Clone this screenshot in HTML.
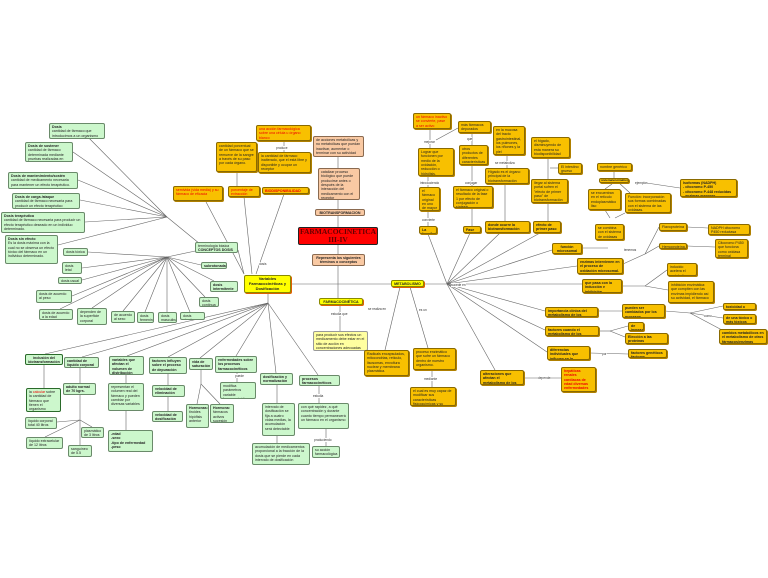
<!DOCTYPE html>
<html><head><meta charset="utf-8"><style>
html,body{margin:0;padding:0;background:#fff;width:768px;height:578px;overflow:hidden}
#c{position:relative;width:768px;height:578px}
svg{position:absolute;left:0;top:0}
.n{position:absolute;box-sizing:border-box;font-family:"Liberation Sans",sans-serif;font-size:3.6px;line-height:1.2;padding:1px 2px;border-radius:2px;overflow:hidden;color:#222}
.g{background:#ccf7cc;border:0.8px solid #6a8a6a}
.o{background:#f8c000;border:0.8px solid #8a6a00;box-shadow:1px 1px 0 #b08000}
.p{background:#f9c9a3;border:0.8px solid #8a6a50}
.y{background:#ffff00;border:0.8px solid #8a8a00;box-shadow:1px 1px 0 #e06000;text-align:center;font-weight:bold}
.ly{background:#ffffa0;border:0.8px solid #999}
.r{color:#e00}
b{font-weight:bold}
.l{position:absolute;font-family:"Liberation Sans",sans-serif;font-size:3.2px;background:#fff;color:#333}
</style></head><body><div id="c">
<svg width="768" height="578" stroke="#666" stroke-width="0.6" fill="none">
<!-- left dosis fan -->
<g>
<line x1="167" y1="217" x2="80" y2="129"/><line x1="167" y1="217" x2="73" y2="152"/><line x1="167" y1="217" x2="78" y2="180"/><line x1="167" y1="217" x2="80" y2="200"/><line x1="167" y1="217" x2="85" y2="222"/><line x1="167" y1="217" x2="58" y2="245"/><line x1="167" y1="217" x2="200" y2="244"/>
<line x1="167" y1="257" x2="88" y2="252"/><line x1="167" y1="257" x2="82" y2="268"/><line x1="167" y1="257" x2="82" y2="280"/><line x1="167" y1="257" x2="72" y2="296"/><line x1="167" y1="257" x2="60" y2="309"/><line x1="167" y1="257" x2="92" y2="308"/><line x1="167" y1="257" x2="123" y2="311"/><line x1="167" y1="257" x2="145" y2="312"/><line x1="167" y1="257" x2="167" y2="312"/><line x1="167" y1="257" x2="190" y2="312"/><line x1="167" y1="257" x2="205" y2="297"/><line x1="167" y1="257" x2="214" y2="281"/><line x1="167" y1="257" x2="201" y2="265"/><line x1="167" y1="257" x2="200" y2="250"/>
<line x1="244" y1="274" x2="238" y2="250"/><line x1="244" y1="274" x2="205" y2="200"/><line x1="252" y1="274" x2="244" y2="197"/><line x1="256" y1="274" x2="284" y2="194"/>
<line x1="237" y1="172" x2="237" y2="186"/><line x1="284" y1="141" x2="284" y2="152"/>
<!-- lower fan -->
<line x1="268" y1="303" x2="268" y2="293"/>
<line x1="268" y1="303" x2="45" y2="354"/><line x1="268" y1="303" x2="82" y2="357"/><line x1="268" y1="303" x2="127" y2="356"/><line x1="268" y1="303" x2="168" y2="357"/><line x1="268" y1="303" x2="200" y2="358"/><line x1="268" y1="303" x2="236" y2="356"/><line x1="268" y1="303" x2="276" y2="373"/><line x1="268" y1="303" x2="318" y2="375"/>
<line x1="44" y1="365" x2="44" y2="388"/><line x1="80" y1="368" x2="80" y2="383"/><line x1="80" y1="395" x2="80" y2="420"/><line x1="80" y1="420" x2="57" y2="422"/><line x1="80" y1="420" x2="45" y2="437"/><line x1="80" y1="420" x2="92" y2="427"/><line x1="80" y1="420" x2="80" y2="445"/>
<line x1="126" y1="375" x2="126" y2="383"/><line x1="126" y1="411" x2="126" y2="430"/><line x1="168" y1="374" x2="168" y2="385"/><line x1="168" y1="397" x2="168" y2="411"/>
<line x1="201" y1="370" x2="201" y2="384"/><line x1="201" y1="384" x2="197" y2="404"/><line x1="201" y1="384" x2="220" y2="404"/>
<line x1="237" y1="373" x2="237" y2="382"/><line x1="277" y1="385" x2="277" y2="403"/><line x1="277" y1="436" x2="277" y2="443"/><line x1="319" y1="386" x2="319" y2="403"/><line x1="326" y1="429" x2="326" y2="446"/>
<!-- center -->
<line x1="338" y1="209" x2="338" y2="200"/><line x1="338" y1="168" x2="338" y2="157"/><line x1="338" y1="227" x2="338" y2="216"/><line x1="338" y1="245" x2="338" y2="254"/><line x1="338" y1="266" x2="338" y2="298"/><line x1="292" y1="284" x2="391" y2="284"/><line x1="340" y1="305" x2="340" y2="331"/>
<line x1="400" y1="287" x2="385" y2="350"/><line x1="410" y1="287" x2="428" y2="348"/><line x1="432" y1="370" x2="432" y2="387"/>
<line x1="424" y1="284" x2="447" y2="284"/>
<!-- right fan from hub 447,284 -->
<line x1="447" y1="284" x2="428" y2="234"/><line x1="447" y1="284" x2="470" y2="233"/><line x1="447" y1="284" x2="500" y2="233"/><line x1="447" y1="284" x2="540" y2="233"/><line x1="447" y1="284" x2="552" y2="250"/><line x1="447" y1="284" x2="577" y2="266"/><line x1="447" y1="284" x2="582" y2="284"/><line x1="447" y1="284" x2="545" y2="311"/><line x1="447" y1="284" x2="545" y2="330"/><line x1="447" y1="284" x2="547" y2="352"/><line x1="447" y1="284" x2="495" y2="370"/>
<line x1="428" y1="226" x2="428" y2="211"/><line x1="428" y1="187" x2="428" y2="176"/><line x1="430" y1="148" x2="430" y2="129"/><line x1="436" y1="140" x2="458" y2="128"/>
<line x1="472" y1="226" x2="472" y2="208"/><line x1="472" y1="186" x2="472" y2="165"/><line x1="472" y1="145" x2="472" y2="133"/>
<line x1="505" y1="221" x2="505" y2="184"/><line x1="507" y1="168" x2="507" y2="155"/>
<line x1="548" y1="221" x2="548" y2="203"/><line x1="548" y1="179" x2="548" y2="158"/><line x1="550" y1="168" x2="558" y2="168"/>
<line x1="582" y1="248" x2="608" y2="248"/><line x1="610" y1="240" x2="610" y2="224"/><line x1="610" y1="218" x2="605" y2="210"/><line x1="615" y1="218" x2="625" y2="213"/><line x1="605" y1="189" x2="612" y2="184"/><line x1="630" y1="193" x2="618" y2="182"/><line x1="614" y1="178" x2="614" y2="171"/><line x1="640" y1="182" x2="680" y2="188"/>
<line x1="623" y1="264" x2="645" y2="254"/><line x1="645" y1="254" x2="659" y2="227"/><line x1="645" y1="254" x2="659" y2="246"/><line x1="687" y1="227" x2="708" y2="228"/><line x1="687" y1="246" x2="715" y2="247"/>
<line x1="622" y1="286" x2="645" y2="286"/><line x1="645" y1="286" x2="667" y2="270"/><line x1="645" y1="286" x2="668" y2="290"/>
<line x1="598" y1="311" x2="622" y2="311"/><line x1="665" y1="311" x2="690" y2="313"/><line x1="690" y1="313" x2="723" y2="306"/><line x1="690" y1="313" x2="723" y2="318"/><line x1="690" y1="313" x2="722" y2="330"/>
<line x1="599" y1="331" x2="610" y2="331"/><line x1="610" y1="331" x2="628" y2="326"/><line x1="610" y1="331" x2="625" y2="337"/>
<line x1="590" y1="353" x2="628" y2="354"/><line x1="524" y1="378" x2="561" y2="378"/>
</g>
</svg>

<!-- left green -->
<div class="n g" style="left:49px;top:123px;width:56px;height:16px"><b>Dosis</b><br>cantidad de fármaco que introducimos a un organismo</div>
<div class="n g" style="left:25px;top:142px;width:48px;height:20px"><b>Dosis de sostener</b><br>cantidad de fármaco determinada mediante pruebas realizadas en voluntarios sanos</div>
<div class="n g" style="left:8px;top:172px;width:70px;height:17px"><b>Dosis de mantenimiento/sostén</b><br>cantidad de medicamento necesaria para mantener un efecto terapéutico.</div>
<div class="n g" style="left:12px;top:193px;width:68px;height:16px"><b>Dosis de carga /ataque</b><br>cantidad de fármaco necesaria para producir un efecto terapéutico</div>
<div class="n g" style="left:1px;top:212px;width:84px;height:21px"><b>Dosis terapéutica</b><br>cantidad de fármaco necesaria para producir un efecto terapéutico deseado en un individuo determinado.</div>
<div class="n g" style="left:5px;top:235px;width:53px;height:29px"><b>Dosis sin efecto</b><br>Es la dosis máxima con la cual no se observa un efecto tóxico del fármaco en un individuo determinado.</div>
<div class="n g" style="left:63px;top:248px;width:25px;height:8px">dosis tóxica</div>
<div class="n g" style="left:62px;top:262px;width:20px;height:12px">dosis letal máxima</div>
<div class="n g" style="left:58px;top:277px;width:24px;height:7px">dosis usual</div>
<div class="n g" style="left:36px;top:290px;width:36px;height:13px">dosis de acuerdo al peso</div>
<div class="n g" style="left:39px;top:309px;width:34px;height:11px">dosis de acuerdo a la edad</div>
<div class="n g" style="left:77px;top:308px;width:30px;height:17px">dependen de la superficie corporal</div>
<div class="n g" style="left:111px;top:311px;width:24px;height:12px">de acuerdo al sexo</div>
<div class="n g" style="left:137px;top:312px;width:17px;height:11px">dosis femenina</div>
<div class="n g" style="left:158px;top:312px;width:19px;height:11px">dosis masculina</div>
<div class="n g" style="left:180px;top:312px;width:25px;height:8px">dosis simple</div>
<div class="n g" style="left:199px;top:297px;width:20px;height:10px">dosis continua</div>
<div class="n g" style="left:210px;top:281px;width:28px;height:11px"><b>dosis intermitente</b></div>
<div class="n g" style="left:201px;top:262px;width:26px;height:7px"><b>subrotonada</b></div>
<div class="n g" style="left:195px;top:242px;width:43px;height:11px">terminología básica<br><b>CONCEPTOS DOSIS</b></div>

<!-- orange upper left -->
<div class="n o" style="left:256px;top:125px;width:55px;height:16px"><span class="r">una acción farmacológica sobre una célula u órgano blanco</span></div>
<div class="n o" style="left:216px;top:142px;width:41px;height:30px">cantidad porcentual de un fármaco que se remueve de la sangre a través de su paso por cada órgano.</div>
<div class="n o" style="left:258px;top:152px;width:53px;height:21px">la cantidad de fármaco inalterado, que el está libre y disponible y ocupar un receptor</div>
<div class="n o" style="left:173px;top:186px;width:50px;height:15px"><span class="r">semivida (vida media) y su fármaco de eficacia</span></div>
<div class="n o" style="left:228px;top:186px;width:32px;height:11px"><span class="r">porcentaje de extracción</span></div>
<div class="n o" style="left:262px;top:187px;width:47px;height:7px"><span class="r"><b>BIODISPONIBILIDAD</b></span></div>

<!-- center -->
<div class="n p" style="left:313px;top:136px;width:51px;height:21px">de acciones metabólicas y no metabólicas que puedan inactivar, aumentar o terminar con su actividad</div>
<div class="n p" style="left:318px;top:168px;width:42px;height:32px">catalizar proceso biológico que puede producirse antes o después de la interacción del medicamento con el receptor</div>
<div class="n p" style="left:315px;top:209px;width:50px;height:7px;text-align:center"><b>BIOTRANSFORMACION</b></div>
<div class="n" style="left:298px;top:227px;width:80px;height:18px;background:#ff0000;border:1px solid #222;color:#600;font-family:'Liberation Serif',serif;font-weight:bold;font-size:7.5px;line-height:8px;text-align:center;padding:0">FARMACOCINETICA<br>III-IV</div>
<div class="n p" style="left:312px;top:254px;width:53px;height:12px;text-align:center"><b>Representa los siguientes términos o conceptos</b></div>
<div class="n y" style="left:244px;top:275px;width:47px;height:18px;font-size:4px">Variables Farmacocinéticas y Dosificación</div>
<div class="n y" style="left:319px;top:298px;width:44px;height:7px">FARMACOCINÉTICA</div>
<div class="n ly" style="left:313px;top:331px;width:55px;height:20px">para producir sus efectos un medicamento debe estar en el sitio de acción en concentraciones adecuadas</div>
<div class="n y" style="left:391px;top:280px;width:33px;height:7px">METABOLISMO</div>
<div class="n o" style="left:364px;top:350px;width:45px;height:26px">Radicals encapsulados, mitocondrias, retículo, lisosomas, envoltura nuclear y membrana plasmática.</div>
<div class="n o" style="left:413px;top:348px;width:43px;height:22px">proceso enzimático que sufre un fármaco dentro de nuestro organismo.</div>
<div class="n o" style="left:410px;top:387px;width:46px;height:19px">el cual es muy capaz de modificar sus características fisicoquímicas y su actividad farmacológica</div>

<!-- right upper -->
<div class="n o" style="left:413px;top:113px;width:38px;height:16px"><span class="r">un fármaco inactivo se convierte, pase a ser activo</span></div>
<div class="n o" style="left:418px;top:148px;width:36px;height:28px">Lograr que funcionen por medio de la oxidación, reducción o hidrólisis, haciendo que se vuelvan con mayor facilidad</div>
<div class="n o" style="left:419px;top:187px;width:21px;height:24px">el fármaco original en uno de mayor polaridad</div>
<div class="n o" style="left:419px;top:226px;width:18px;height:8px"><b>La fase 2</b></div>
<div class="n o" style="left:458px;top:121px;width:33px;height:12px">más fármacos depurados</div>
<div class="n o" style="left:459px;top:145px;width:29px;height:20px">otros productos de diferentes características moleculares</div>
<div class="n o" style="left:453px;top:186px;width:40px;height:22px">el fármaco original o resultado de la fase 1 por efecto de conjugación o síntesis</div>
<div class="n o" style="left:463px;top:226px;width:18px;height:7px"><b>Fase III</b></div>
<div class="n o" style="left:493px;top:126px;width:32px;height:29px">en la mucosa del tracto gastrointestinal, los pulmones, los riñones y la piel</div>
<div class="n o" style="left:485px;top:168px;width:44px;height:16px">Hígado es el órgano principal de la biotransformación</div>
<div class="n o" style="left:485px;top:221px;width:45px;height:12px"><b>donde ocurre la biotransformación</b></div>
<div class="n o" style="left:531px;top:137px;width:39px;height:21px">el hígado, disminuyendo de esta manera su biodisponibilidad</div>
<div class="n o" style="left:558px;top:163px;width:24px;height:11px">El intestino grueso</div>
<div class="n o" style="left:531px;top:179px;width:37px;height:24px">llegar al sistema portal sufren el "efecto de primer paso" de biotransformación</div>
<div class="n o" style="left:533px;top:221px;width:28px;height:12px"><b>efecto de primer paso</b></div>
<div class="n o" style="left:597px;top:163px;width:35px;height:8px">nombre genérico</div>
<div class="n o" style="left:599px;top:178px;width:30px;height:5px;font-size:3px;padding:0 1px"><b>sistema/enzimático</b></div>
<div class="n o" style="left:588px;top:189px;width:33px;height:21px">se encuentran en el retículo endoplasmático liso</div>
<div class="n o" style="left:625px;top:193px;width:46px;height:20px">Función: incorporación sus formas combinadas con el sistema de las oxidasas.</div>
<div class="n o" style="left:680px;top:179px;width:57px;height:18px"><b>Isoformas (NADPH)<br>- citocromo P-450<br>- citocromo P-448 reducidas<br>- enzimas menores</b></div>
<div class="n o" style="left:595px;top:224px;width:29px;height:16px">se combina con el sistema de oxidasas</div>
<div class="n o" style="left:552px;top:243px;width:30px;height:11px;text-align:center"><b>función microsomal</b></div>
<div class="n o" style="left:659px;top:223px;width:28px;height:8px">Flavoproteína</div>
<div class="n o" style="left:708px;top:224px;width:42px;height:11px">NADPH citocromo P450 reductasa</div>
<div class="n o" style="left:659px;top:243px;width:28px;height:6px">Hemoproteína</div>
<div class="n o" style="left:715px;top:239px;width:33px;height:19px">Citocromo P450 que funciona como oxidasa terminal</div>
<div class="n o" style="left:577px;top:258px;width:46px;height:16px"><b>enzimas intervienen en el proceso de oxidación microsomal.</b></div>
<div class="n o" style="left:667px;top:263px;width:30px;height:13px">inducido acelera el metabolismo y disminuye</div>
<div class="n o" style="left:582px;top:279px;width:40px;height:14px"><b>que pasa con la inducción e inhibición enzimática.</b></div>
<div class="n o" style="left:668px;top:281px;width:46px;height:22px">inhibición enzimática: que compiten con las enzimas impidiendo así su actividad, el fármaco</div>
<div class="n o" style="left:545px;top:307px;width:53px;height:10px"><b>importancia clínica del metabolismo de los fármacos</b></div>
<div class="n o" style="left:622px;top:304px;width:43px;height:14px"><b>pueden ser cambiados por los procesos metabólicos</b></div>
<div class="n o" style="left:723px;top:303px;width:33px;height:7px"><b>toxicidad o efectos</b></div>
<div class="n o" style="left:723px;top:314px;width:33px;height:10px"><b>de una tóxico o más tóxicos</b></div>
<div class="n o" style="left:719px;top:329px;width:48px;height:15px"><b>cambios metabólicos en el metabolismo de otros fármacos/enzimas</b></div>
<div class="n o" style="left:545px;top:326px;width:54px;height:10px"><b>factores cuando el metabolismo de los fármacos</b></div>
<div class="n o" style="left:628px;top:322px;width:16px;height:9px"><b>de ingreso del fármaco</b></div>
<div class="n o" style="left:625px;top:333px;width:43px;height:11px"><b>Elección a las proteínas plasmáticas</b></div>
<div class="n o" style="left:547px;top:346px;width:43px;height:14px"><b>diferencias individuales que influyen en la biotransformación</b></div>
<div class="n o" style="left:628px;top:349px;width:39px;height:9px"><b>factores genéticos factores ambientales</b></div>
<div class="n o" style="left:480px;top:370px;width:44px;height:15px"><b>alteraciones que afectan el metabolismo de los fármacos</b></div>
<div class="n o" style="left:561px;top:367px;width:35px;height:25px"><span class="r"><b>hepáticas renales cardiacas de edad diversas enfermedades</b></span></div>

<!-- lower green -->
<div class="n g" style="left:25px;top:354px;width:38px;height:11px;border:1.2px solid #2a6a2a;text-align:center"><b>inclusión del biotransformación</b></div>
<div class="n g" style="left:26px;top:388px;width:35px;height:24px;border:1.2px solid #2a6a2a">la <span class="r">calcular</span> sobre la cantidad de fármaco que tienen el organismo</div>
<div class="n g" style="left:64px;top:357px;width:35px;height:11px"><b>cantidad de líquido corporal</b></div>
<div class="n g" style="left:63px;top:383px;width:33px;height:12px"><b>adulto normal de 70 kgrs.</b></div>
<div class="n g" style="left:25px;top:417px;width:32px;height:12px">líquido corporal total 40 litros</div>
<div class="n g" style="left:26px;top:437px;width:37px;height:12px">líquido extracelular de 12 litros</div>
<div class="n g" style="left:81px;top:427px;width:23px;height:11px">plasmático de 3 litros</div>
<div class="n g" style="left:68px;top:445px;width:24px;height:12px">sanguíneo de 5.5 litros</div>
<div class="n g" style="left:109px;top:356px;width:35px;height:19px"><b>variables que afectan el volumen de distribución</b></div>
<div class="n g" style="left:108px;top:383px;width:36px;height:28px">representan el volumen real del fármaco y pueden cambiar por diversas variables</div>
<div class="n g" style="left:108px;top:430px;width:45px;height:22px"><b>-edad<br>-sexo<br>-tipo de enfermedad<br>-peso</b></div>
<div class="n g" style="left:149px;top:357px;width:38px;height:17px"><b>factores influyen sobre el proceso de depuración</b></div>
<div class="n g" style="left:152px;top:385px;width:33px;height:12px"><b>velocidad de eliminación</b></div>
<div class="n g" style="left:152px;top:411px;width:31px;height:11px"><b>velocidad de dosificación</b></div>
<div class="n g" style="left:189px;top:358px;width:24px;height:12px"><b>vida de saturación</b></div>
<div class="n g" style="left:186px;top:404px;width:23px;height:24px"><b>Hormonas:</b> tiroides hipófisis anterior</div>
<div class="n g" style="left:210px;top:404px;width:24px;height:19px"><b>Hormona:</b> fármacos activos sucesión</div>
<div class="n g" style="left:215px;top:356px;width:42px;height:17px"><b>enfermedades sobre los procesos farmacocinéticos</b></div>
<div class="n g" style="left:220px;top:382px;width:36px;height:17px">modifica parámetros variable farmacocinéticos</div>
<div class="n g" style="left:260px;top:373px;width:33px;height:12px"><b>dosificación y normalización</b></div>
<div class="n g" style="left:262px;top:403px;width:33px;height:33px">intervalo de dosificación se fija a cuatro vidas medias, la acumulación será detectable</div>
<div class="n g" style="left:252px;top:443px;width:58px;height:22px">acumulación de medicamentos proporcional a la fracción de la dosis que se pierde en cada intervalo de dosificación</div>
<div class="n g" style="left:299px;top:375px;width:41px;height:11px"><b>procesos farmacocinéticos</b></div>
<div class="n g" style="left:298px;top:403px;width:51px;height:26px">con qué rapidez, a qué concentración y durante cuanto tiempo permanecerá un fármaco en el organismo</div>
<div class="n g" style="left:312px;top:446px;width:28px;height:12px">su acción farmacológica</div>

<!-- link labels -->
<div class="l" style="left:259px;top:262px">dosis</div>
<div class="l" style="left:331px;top:312px">estudia que</div>
<div class="l" style="left:368px;top:307px">se realiza en</div>
<div class="l" style="left:419px;top:308px">es un</div>
<div class="l" style="left:424px;top:377px">mediante</div>
<div class="l" style="left:451px;top:283px">sucede en</div>
<div class="l" style="left:424px;top:140px">mejorar</div>
<div class="l" style="left:420px;top:181px">introduciendo</div>
<div class="l" style="left:422px;top:218px">convierte</div>
<div class="l" style="left:465px;top:181px">conjugar</div>
<div class="l" style="left:467px;top:137px">que</div>
<div class="l" style="left:495px;top:161px">se metaboliza</div>
<div class="l" style="left:635px;top:181px">ejemplos</div>
<div class="l" style="left:624px;top:248px">tenemos</div>
<div class="l" style="left:704px;top:314px">como</div>
<div class="l" style="left:602px;top:352px">por</div>
<div class="l" style="left:538px;top:376px">depende</div>
<div class="l" style="left:235px;top:374px">puede</div>
<div class="l" style="left:314px;top:438px">produciendo</div>
<div class="l" style="left:313px;top:394px">estudia</div>
<div class="l" style="left:276px;top:146px">produce</div>
</div></body></html>
